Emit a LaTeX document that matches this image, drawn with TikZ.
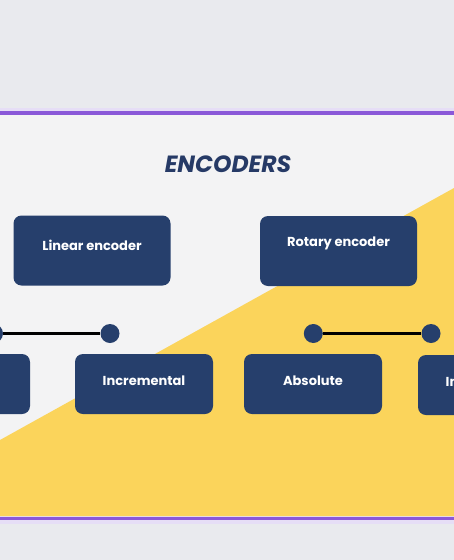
\documentclass[tikz,border=0pt]{standalone}
\usepackage{fontspec}
\setmainfont{Poppins}
\definecolor{outerbg}{HTML}{E9EAEE}
\definecolor{panel}{HTML}{F3F3F4}
\definecolor{purp}{HTML}{8A58D8}
\definecolor{palepurp}{HTML}{E6DEF6}
\definecolor{yell}{HTML}{FBD45B}
\definecolor{navy}{HTML}{263F6C}
\definecolor{titlenavy}{HTML}{263A66}
\tikzset{
  box/.style={fill=navy, rounded corners=8pt, inner sep=0pt, draw=none},
  bigbox/.style={box, minimum width=157pt, minimum height=70pt},
  smallbox/.style={box, minimum width=138pt, minimum height=60pt},
  lbl/.style={text=white, inner sep=0pt, font=\bfseries\fontsize{13}{15}\selectfont},
  dot/.style={circle, fill=navy, minimum size=19pt, inner sep=0pt},
  link/.style={line width=3pt, black}
}
\begin{document}
\begin{tikzpicture}[x=1pt,y=-1pt]
\useasboundingbox (0,0) rectangle (454,560);
\clip (0,0) rectangle (454,560);
% backgrounds
\fill[outerbg] (0,0) rectangle (454,560);
\fill[palepurp] (0,108) rectangle (454,524);
\fill[panel] (0,115) rectangle (454,516);
\fill[yell] (0,440) -- (454,188) -- (454,516) -- (0,516) -- cycle;
\fill[purp] (0,111) rectangle (454,114.5);
\fill[purp] (0,516.5) rectangle (454,520);
% title
\node[text=titlenavy, inner sep=0pt, font=\bfseries\itshape\fontsize{23.5}{26}\selectfont] (title) at (228,164) {ENCODERS};
% top boxes
\node[bigbox] (lin) at (92,250.5) {};
\node[lbl] (lint) at (92,245) {Linear encoder};
\node[bigbox] (rot) at (338.5,251) {};
\node[lbl] (rott) at (338.5,243) {Rotary encoder};
% bottom boxes
\node[smallbox] (absL) at (-39,384) {};
\node[smallbox] (inc) at (144,384) {};
\node[lbl] (inct) at (144,381) {Incremental};
\node[smallbox] (abs) at (313,384) {};
\node[lbl] (abst) at (313,381) {Absolute};
\node[smallbox] (incR) at (487,385) {};
\node[lbl] (incRt) at (487,382) {Incremental};
% connectors
\node[dot] (d0) at (-6.5,333.5) {};
\node[dot] (d1) at (110,333.5) {};
\node[dot] (d2) at (313.3,333.5) {};
\node[dot] (d3) at (431,333.5) {};
\draw[link] (d0) -- (d1);
\draw[link] (d2) -- (d3);
\end{tikzpicture}
\end{document}
